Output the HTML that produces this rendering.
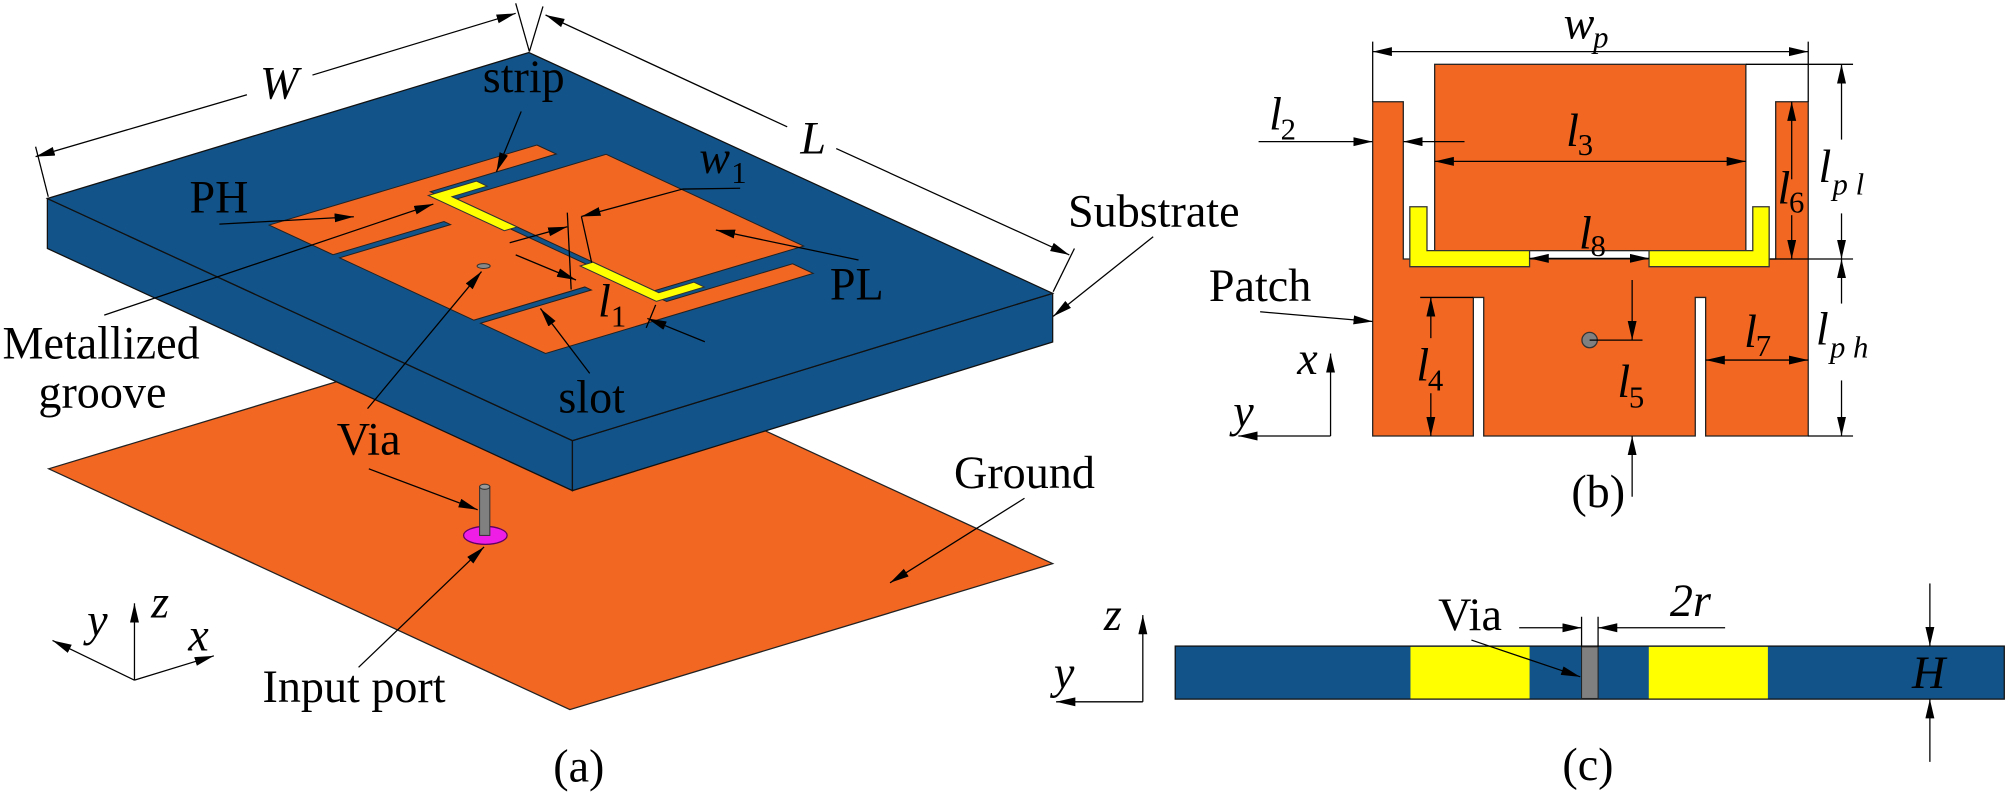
<!DOCTYPE html>
<html><head><meta charset="utf-8"><style>
html,body{margin:0;padding:0;background:#fff;}
svg{display:block;}
text{font-family:"Liberation Serif","Times New Roman","DejaVu Serif",serif;font-size:36px;fill:#000;}
.i{font-style:italic;}
.s{font-size:24px;}
</style></head><body>
<svg width="2008" height="798" viewBox="0 0 1568 623" preserveAspectRatio="none" xmlns="http://www.w3.org/2000/svg" font-family="Liberation Serif, Times New Roman, DejaVu Serif, serif">
<defs>
<marker id="ar" markerUnits="userSpaceOnUse" markerWidth="16" markerHeight="8" refX="15" refY="3.5" orient="auto-start-reverse">
<path d="M0,0 L15,3.5 L0,7 z" fill="#000"/>
</marker>
</defs>

<!-- ===== (a) ===== -->
<polygon points="38,366 415,252 822,440 445,554" fill="#F26722" stroke="#222" stroke-width="1"/>
<ellipse cx="379" cy="418" rx="17" ry="7" fill="#EE1EE6" stroke="#600060" stroke-width="1"/>
<rect x="374.5" y="380" width="8" height="38" fill="#808080" stroke="#333" stroke-width="0.8"/>
<ellipse cx="378.5" cy="380" rx="4" ry="2" fill="#999" stroke="#333" stroke-width="0.8"/>

<polygon points="37,155 447,344 447,383 37,194" fill="#12548A" stroke="#111" stroke-width="1"/>
<polygon points="447,344 822,229 822,267 447,383" fill="#12548A" stroke="#111" stroke-width="1"/>
<polygon points="37,155 413,41 822,229 447,344" fill="#12548A" stroke="#111" stroke-width="1"/>

<g transform="matrix(0.6346 0.2947 -0.801 0.2395 -197.4 -221.7)">
<rect x="1120.3" y="50.2" width="243" height="145.5" fill="#F26722" stroke="#222" stroke-width="1" vector-effect="non-scaling-stroke"/>
<polygon points="1071.9,79.4 1095.8,79.4 1095.8,202.2 1386.6,202.2 1386.6,79.4 1412,79.4 1412,340.4 1331.9,340.4 1331.9,232.2 1323.8,232.2 1323.8,340.4 1158.6,340.4 1158.6,232.2 1150.5,232.2 1150.5,340.4 1071.9,340.4" fill="#F26722" stroke="#222" stroke-width="1" vector-effect="non-scaling-stroke"/>
<polygon points="1100.9,161.4 1114.3,161.4 1114.3,195.7 1194.4,195.7 1194.4,208.2 1100.9,208.2" fill="#FFFF00" stroke="#333" stroke-width="1" vector-effect="non-scaling-stroke"/>
<polygon points="1381.5,161.4 1368.7,161.4 1368.7,195.7 1287.7,195.7 1287.7,208.2 1381.5,208.2" fill="#FFFF00" stroke="#333" stroke-width="1" vector-effect="non-scaling-stroke"/>
<circle cx="1241.3" cy="265.5" r="5" fill="#888" stroke="#333" stroke-width="1" vector-effect="non-scaling-stroke"/>
</g>

<g stroke="#000" stroke-width="1" fill="none">
<line x1="27.8" y1="114.5" x2="37.7" y2="153.6"/>
<line x1="402.7" y1="2.6" x2="413.4" y2="40.3"/>
<line x1="192.8" y1="74" x2="27.8" y2="122.3" marker-end="url(#ar)"/>
<line x1="244" y1="58.6" x2="402.7" y2="10.4" marker-end="url(#ar)"/>
<line x1="424" y1="5" x2="413.4" y2="40.3"/>
<line x1="839" y1="194" x2="822.4" y2="227.7"/>
<line x1="614.7" y1="99" x2="426" y2="11.7" marker-end="url(#ar)"/>
<line x1="653" y1="116" x2="835" y2="199" marker-end="url(#ar)"/>
<line x1="407" y1="87" x2="387.7" y2="134" marker-end="url(#ar)"/>
<line x1="171.3" y1="175" x2="276.3" y2="169.2" marker-end="url(#ar)"/>
<line x1="81.4" y1="246" x2="338.4" y2="159.3" marker-end="url(#ar)"/>
<line x1="533" y1="147.6" x2="578" y2="147"/>
<line x1="533" y1="147.6" x2="454" y2="169" marker-end="url(#ar)"/>
<line x1="398" y1="189.5" x2="443" y2="177" marker-end="url(#ar)"/>
<line x1="443" y1="166" x2="446" y2="226"/>
<line x1="454" y1="169" x2="462" y2="205"/>
<line x1="402.7" y1="199" x2="449.8" y2="218.6" marker-end="url(#ar)"/>
<line x1="550.4" y1="266.8" x2="505.5" y2="248.6" marker-end="url(#ar)"/>
<line x1="512" y1="238" x2="504.6" y2="256"/>
<line x1="670.4" y1="203" x2="559" y2="179.6" marker-end="url(#ar)"/>
<line x1="460.5" y1="291.5" x2="422" y2="240.8" marker-end="url(#ar)"/>
<line x1="287" y1="319" x2="376" y2="212" marker-end="url(#ar)"/>
<line x1="288" y1="366" x2="373" y2="398" marker-end="url(#ar)"/>
<line x1="800" y1="389" x2="695" y2="455" marker-end="url(#ar)"/>
<line x1="280" y1="521" x2="378" y2="427" marker-end="url(#ar)"/>
<line x1="900.5" y1="184.8" x2="822.4" y2="247" marker-end="url(#ar)"/>
<line x1="105" y1="531" x2="105" y2="471" marker-end="url(#ar)"/>
<line x1="105" y1="531" x2="41" y2="500" marker-end="url(#ar)"/>
<line x1="105" y1="531" x2="167" y2="512" marker-end="url(#ar)"/>
</g>

<text class="i" x="203" y="77">W</text>
<text class="i" x="625" y="120">L</text>
<text x="377" y="72">strip</text>
<text x="148" y="166">PH</text>
<text class="i" x="546" y="135">w</text><text class="s" x="571" y="143">1</text>
<text class="i" x="467" y="247">l</text><text class="s" x="477" y="255">1</text>
<text x="648" y="234">PL</text>
<text x="834" y="177">Substrate</text>
<text x="2" y="280">Metallized</text>
<text x="30" y="318">groove</text>
<text x="436" y="322">slot</text>
<text x="263" y="355">Via</text>
<text x="745" y="381">Ground</text>
<text x="205" y="548">Input port</text>
<text class="i" x="68" y="496">y</text>
<text class="i" x="118" y="482">z</text>
<text class="i" x="147" y="508">x</text>
<text x="452" y="610" text-anchor="middle">(a)</text>

<!-- ===== (b) ===== -->
<rect x="1120.3" y="50.2" width="243" height="145.5" fill="#F26722" stroke="#222" stroke-width="1"/>
<polygon points="1071.9,79.4 1095.8,79.4 1095.8,202.2 1386.6,202.2 1386.6,79.4 1412,79.4 1412,340.4 1331.9,340.4 1331.9,232.2 1323.8,232.2 1323.8,340.4 1158.6,340.4 1158.6,232.2 1150.5,232.2 1150.5,340.4 1071.9,340.4" fill="#F26722" stroke="#222" stroke-width="1"/>
<polygon points="1100.9,161.4 1114.3,161.4 1114.3,195.7 1194.4,195.7 1194.4,208.2 1100.9,208.2" fill="#FFFF00" stroke="#333" stroke-width="1"/>
<polygon points="1381.5,161.4 1368.7,161.4 1368.7,195.7 1287.7,195.7 1287.7,208.2 1381.5,208.2" fill="#FFFF00" stroke="#333" stroke-width="1"/>
<circle cx="1241.3" cy="265.5" r="6" fill="#808080" stroke="#333" stroke-width="1"/>

<g stroke="#000" stroke-width="1" fill="none">
<line x1="1071.9" y1="32.5" x2="1071.9" y2="79.4"/>
<line x1="1412" y1="32.5" x2="1412" y2="79.4"/>
<line x1="1363.3" y1="50.2" x2="1447" y2="50.2"/>
<line x1="1382" y1="202.2" x2="1447" y2="202.2"/>
<line x1="1412" y1="340.4" x2="1447" y2="340.4"/>
<line x1="1109" y1="232.2" x2="1150.5" y2="232.2"/>
<line x1="1241.3" y1="265.5" x2="1282.6" y2="265.5"/>
<line x1="1071.9" y1="40.3" x2="1412" y2="40.3" marker-start="url(#ar)" marker-end="url(#ar)"/>
<line x1="1120.3" y1="126" x2="1363.3" y2="126" marker-start="url(#ar)" marker-end="url(#ar)"/>
<line x1="982.8" y1="110.6" x2="1071.9" y2="110.6" marker-end="url(#ar)"/>
<line x1="1143.6" y1="110.6" x2="1095.8" y2="110.6" marker-end="url(#ar)"/>
<line x1="1194.4" y1="201.7" x2="1287.7" y2="201.7" marker-start="url(#ar)" marker-end="url(#ar)"/>
<line x1="1399.1" y1="79.4" x2="1399.1" y2="140" marker-start="url(#ar)"/>
<line x1="1399.1" y1="168" x2="1399.1" y2="202.2" marker-end="url(#ar)"/>
<line x1="1438" y1="109" x2="1438" y2="50.2" marker-end="url(#ar)"/>
<line x1="1438" y1="166.6" x2="1438" y2="202.2" marker-end="url(#ar)"/>
<line x1="1438" y1="237" x2="1438" y2="202.2" marker-end="url(#ar)"/>
<line x1="1438" y1="297" x2="1438" y2="340.4" marker-end="url(#ar)"/>
<line x1="1117.3" y1="264" x2="1117.3" y2="232.2" marker-end="url(#ar)"/>
<line x1="1117.3" y1="307" x2="1117.3" y2="340.4" marker-end="url(#ar)"/>
<line x1="1274.5" y1="218.6" x2="1274.5" y2="265.5" marker-end="url(#ar)"/>
<line x1="1274.5" y1="387.8" x2="1274.5" y2="340.4" marker-end="url(#ar)"/>
<line x1="1331.9" y1="281.1" x2="1412" y2="281.1" marker-start="url(#ar)" marker-end="url(#ar)"/>
<line x1="984" y1="243.4" x2="1071.9" y2="251" marker-end="url(#ar)"/>
<line x1="1039" y1="340.4" x2="1039" y2="276" marker-end="url(#ar)"/>
<line x1="1039" y1="340.4" x2="967" y2="340.4" marker-end="url(#ar)"/>
</g>

<text class="i" x="1221" y="30">w</text><text class="i s" x="1244" y="37">p</text>
<text class="i" x="1223" y="114">l</text><text class="s" x="1232" y="121">3</text>
<text class="i" x="1233" y="194">l</text><text class="s" x="1242" y="200">8</text>
<text class="i" x="1388" y="159">l</text><text class="s" x="1397" y="166">6</text>
<text class="i" x="1106" y="297">l</text><text class="s" x="1115" y="305">4</text>
<text class="i" x="1263" y="310">l</text><text class="s" x="1272" y="318">5</text>
<text class="i" x="1362" y="271">l</text><text class="s" x="1371" y="278">7</text>
<text class="i" x="1420" y="142">l</text><text class="i s" x="1431" y="152">p l</text>
<text class="i" x="1418" y="269">l</text><text class="i s" x="1429" y="279">p h</text>
<text class="i" x="991" y="101">l</text><text class="s" x="1000" y="109">2</text>
<text x="944" y="235">Patch</text>
<text class="i" x="1013" y="292">x</text>
<text class="i" x="963" y="333">y</text>
<text x="1248" y="396" text-anchor="middle">(b)</text>

<!-- ===== (c) ===== -->
<rect x="917.7" y="504.4" width="647.4" height="41.4" fill="#12548A" stroke="#111" stroke-width="1"/>
<rect x="1101.4" y="505" width="93" height="40.3" fill="#FFFF00"/>
<rect x="1287.5" y="505" width="93" height="40.3" fill="#FFFF00"/>
<rect x="1235" y="505" width="12.9" height="40.3" fill="#808080" stroke="#222" stroke-width="0.8"/>
<g stroke="#000" stroke-width="1" fill="none">
<line x1="1235" y1="481.5" x2="1235" y2="505"/>
<line x1="1247.9" y1="481.5" x2="1247.9" y2="505"/>
<line x1="1186.3" y1="490.1" x2="1235" y2="490.1" marker-end="url(#ar)"/>
<line x1="1347.1" y1="490.1" x2="1247.9" y2="490.1" marker-end="url(#ar)"/>
<line x1="1149" y1="499.7" x2="1234" y2="528.4" marker-end="url(#ar)"/>
<line x1="1507" y1="455.5" x2="1507" y2="504.4" marker-end="url(#ar)"/>
<line x1="1507" y1="594.8" x2="1507" y2="545.8" marker-end="url(#ar)"/>
<line x1="892.4" y1="547.9" x2="892.4" y2="480.2" marker-end="url(#ar)"/>
<line x1="892.4" y1="547.9" x2="824.7" y2="547.9" marker-end="url(#ar)"/>
</g>
<text class="i" x="1304" y="481">2r</text>
<text x="1123" y="492">Via</text>
<text class="i" x="1493" y="537">H</text>
<text class="i" x="862" y="492">z</text>
<text class="i" x="823" y="537">y</text>
<text x="1240" y="609" text-anchor="middle">(c)</text>
</svg>
</body></html>
